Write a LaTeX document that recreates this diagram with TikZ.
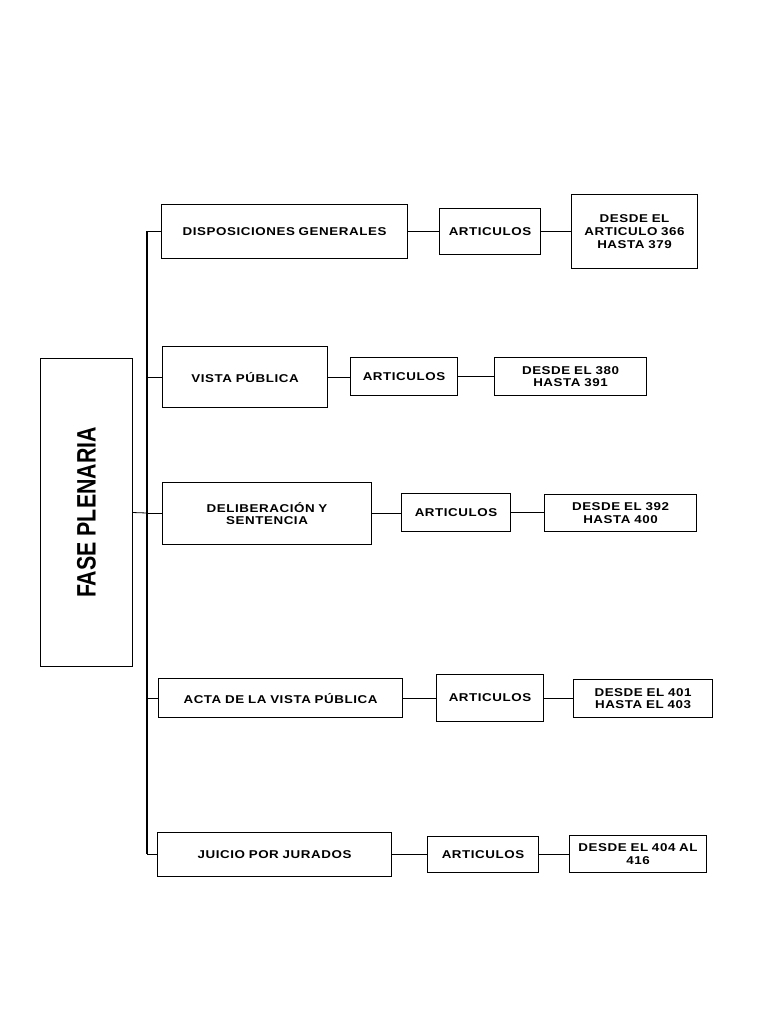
\documentclass[tikz,border=0pt]{standalone}
\usepackage{fontspec}
\setmainfont{Liberation Sans}
\newfontfamily\widefont[FakeStretch=1.18,LetterSpace=5]{Liberation Sans}
\begin{document}
\begin{tikzpicture}[x=0.75pt,y=-0.75pt,
 bx/.style={draw,line width=0.8pt,anchor=north west,inner sep=0pt,align=center,font=\widefont\fontsize{8.5}{9.5}\selectfont\bfseries,text width=#1},
 ln/.style={line width=0.6pt}]
\useasboundingbox (0,0) rectangle (768,1024);
\newcommand\bxx[6]{\node[bx=#4*0.75pt-2pt,minimum width=#4*0.75pt,minimum height=#5*0.75pt] (#1) at (#2,#3) {#6};}
\node[draw,line width=0.8pt,anchor=north west,minimum width=92*0.75pt,minimum height=308*0.75pt,inner sep=0pt] (fp) at (40,358) {};
\node[rotate=90,font=\fontsize{20}{20}\selectfont\bfseries,xscale=0.8] at (fp.center) {FASE PLENARIA};
\bxx{a1}{161}{204}{246}{54}{DISPOSICIONES GENERALES}
\bxx{b1}{439}{208}{101}{46}{ARTICULOS}
\bxx{c1}{571}{194}{126}{74}{DESDE EL\\ARTICULO 366\\HASTA 379}
\bxx{a2}{162}{346}{165}{61}{VISTA PÚBLICA}
\bxx{b2}{350}{357}{107}{38}{ARTICULOS}
\bxx{c2}{494}{357}{152}{38}{DESDE EL 380\\HASTA 391}
\bxx{a3}{162}{482}{209}{62}{DELIBERACIÓN Y\\SENTENCIA}
\bxx{b3}{401}{493}{109}{38}{ARTICULOS}
\bxx{c3}{544}{494}{152}{37}{DESDE EL 392\\HASTA 400}
\bxx{a4}{158}{678}{244}{39}{ACTA DE LA VISTA PÚBLICA}
\bxx{b4}{436}{674}{107}{47}{ARTICULOS}
\bxx{c4}{573}{679}{139}{38}{DESDE EL 401\\HASTA EL 403}
\bxx{a5}{157}{832}{234}{44}{JUICIO POR JURADOS}
\bxx{b5}{427}{836}{111}{36}{ARTICULOS}
\bxx{c5}{569}{835}{137}{37}{DESDE EL 404 AL\\416}
\coordinate (top) at (147,231);
\coordinate (bot) at (147,854);
\draw[line width=1.2pt] (top) -- (bot);
\draw[ln] (fp.east) -- (147,513);
\foreach \i in {1,...,5}{
 \draw[ln] (a\i.west -| top) -- (a\i.west);
 \draw[ln] (a\i.east) -- (a\i.east -| b\i.west);
 \draw[ln] (b\i.east) -- (b\i.east -| c\i.west);
}
\end{tikzpicture}
\end{document}
